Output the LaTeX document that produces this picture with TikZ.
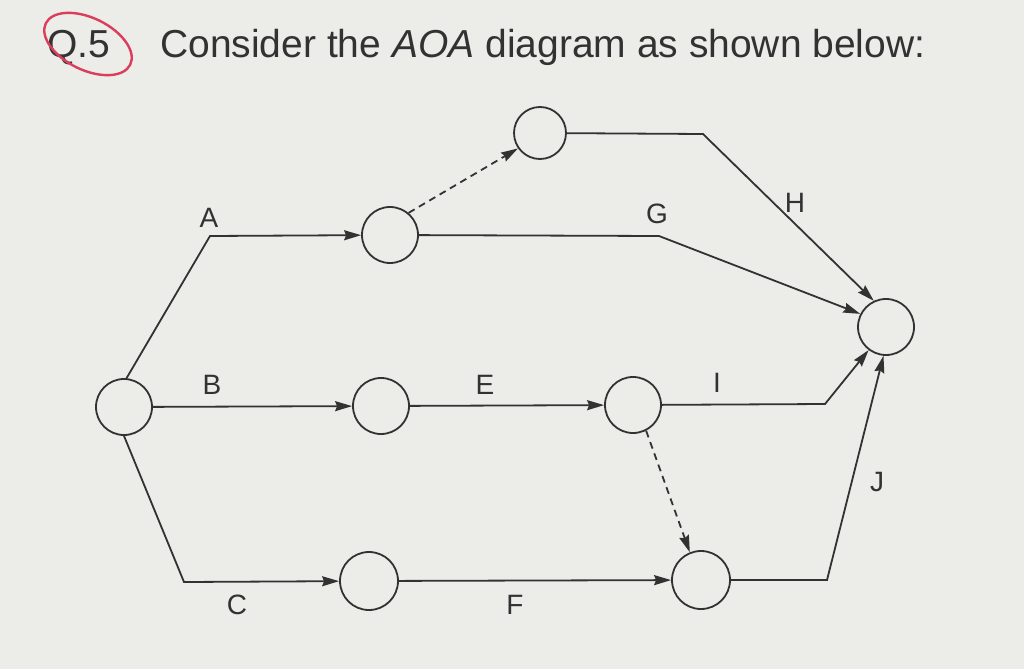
\documentclass[tikz,border=0pt]{standalone}
\usepackage{fontspec}
\setmainfont{Liberation Sans}
\usetikzlibrary{arrows.meta}
\definecolor{paper}{RGB}{236,236,233}
\definecolor{ink}{RGB}{50,50,50}
\definecolor{pen}{RGB}{218,62,92}
\tikzset{
  ev/.style={circle,draw=ink,line width=1.8pt,minimum size=56pt,inner sep=0pt},
  act/.style={draw=ink,line width=1.8pt,-{Stealth[length=17pt,width=10pt,inset=2pt]}},
  dum/.style={act,dash pattern=on 7pt off 5pt},
  lab/.style={text=ink,font=\fontsize{28}{28}\selectfont,inner sep=0pt},
  ttl/.style={anchor=base west,inner sep=0pt,text=ink,font=\fontsize{39}{39}\selectfont},
}
\begin{document}
\begin{tikzpicture}[x=1pt,y=-1pt]
\fill[paper] (0,0) rectangle (1024,669);
\useasboundingbox (0,0) rectangle (1024,669);
% title
\node[ttl] (qn) at (47,57) {Q.5};
\node[ttl] (title) at (160,57) {Consider the \textit{AOA} diagram as shown below:};
\draw[pen,line width=2.4pt] (88,44) ellipse [x radius=47pt,y radius=26pt,rotate=-26];
% events
\node[ev] (N1) at (124,407) {};
\node[ev] (N2) at (390,235) {};
\node[ev,minimum size=52pt] (N4) at (540,133) {};
\node[ev] (N3) at (381,406) {};
\node[ev] (N5) at (633,405) {};
\node[ev] (N6) at (886,327) {};
\node[ev,minimum size=58pt] (N7) at (369,581) {};
\node[ev,minimum size=58pt] (N8) at (701,580) {};
% bend points
\coordinate (cA) at (210,236);
\coordinate (cC) at (184,582);
\coordinate (cH) at (703,134);
\coordinate (cG) at (659,236);
\coordinate (cI) at (825,404);
\coordinate (cJ) at (827,580);
% activities
\draw[act] (N1.85) -- (cA) -- (N2);
\draw[act] (N1) -- (N3);
\draw[act] (N1.south) -- (cC) -- (N7);
\draw[act] (N3) -- (N5);
\draw[act] (N7) -- (N8);
\draw[act] (N4) -- (cH) -- (N6.115);
\draw[act] (N2) -- (cG) -- (N6.153);
\draw[act] (N5) -- (cI) -- (N6.233);
\draw[act] (N8) -- (cJ) -- (N6.265);
\draw[dum] (N2.50) -- (N4.215);
\draw[dum] (N5.297) -- (N8.112);
% labels
\node[lab] (lA) at (209,218) {A};
\node[lab] (lB) at (212,385) {B};
\node[lab] (lC) at (237,605) {C};
\node[lab] (lE) at (485,385) {E};
\node[lab] (lF) at (515,605) {F};
\node[lab] (lG) at (657,214) {G};
\node[lab] (lH) at (795,203) {H};
\node[lab] (lI) at (717,383) {I};
\node[lab] (lJ) at (877,482) {J};
\end{tikzpicture}
\end{document}
